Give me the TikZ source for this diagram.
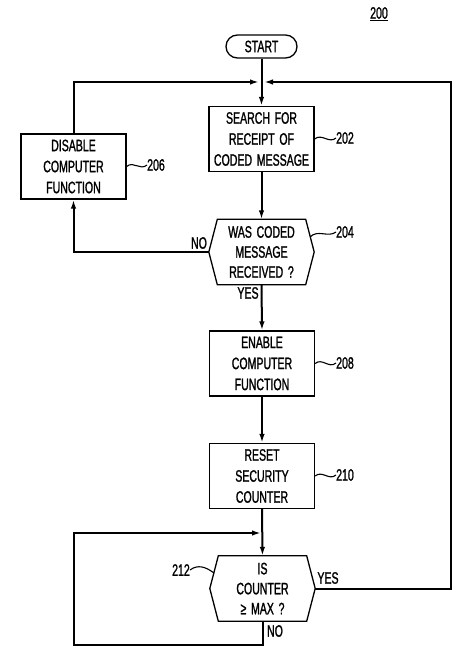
\documentclass[tikz,border=0pt]{standalone}
\usepackage{fontspec}
\setmainfont{Liberation Sans}[FakeStretch=0.64,FakeBold=1.2,WordSpace=1.6]
\usetikzlibrary{arrows.meta,calc}
\tikzset{
  lbl/.style={font=\fontsize{16.5}{21}\selectfont, inner sep=0pt, align=center},
  procbox/.style={draw, line width=1.3pt, minimum width=105pt, minimum height=65pt, inner sep=0pt, align=center, font=\fontsize{16.5}{21}\selectfont},
  hexbox/.style={minimum width=105pt, minimum height=65pt, inner sep=0pt, align=center, font=\fontsize{16.5}{20}\selectfont},
  termbox/.style={draw, line width=1.3pt, rounded corners=11.5pt, minimum width=71pt, minimum height=23pt, inner sep=0pt, font=\fontsize{16.5}{20}\selectfont},
  arr/.style={line width=2pt, -{Latex[length=9pt,width=5.5pt]}},
  tildeline/.style={line width=1.1pt}
}
\begin{document}
\begin{tikzpicture}[x=1pt,y=-1pt]
\useasboundingbox (0,0) rectangle (474,660);
\node[lbl] (fig) at (379,14) {\underline{200}};
\node[termbox] (start) at (261.5,46.5) {START};
\node[procbox] (b202) at (261.5,139) {SEARCH FOR\\RECEIPT OF\\CODED MESSAGE};
\node[procbox] (b206) at (73.5,166.5) {DISABLE\\COMPUTER\\FUNCTION};
\node[hexbox] (d204) at (261.5,252) {WAS CODED\\MESSAGE\\RECEIVED ?};
\node[procbox] (b208) at (262,363.5) {ENABLE\\COMPUTER\\FUNCTION};
\node[procbox] (b210) at (262,476) {RESET\\SECURITY\\COUNTER};
\node[hexbox] (d212) at (262.5,588.5) {IS\\COUNTER\\≥ MAX ?};
% hexagon outlines
\foreach \h in {d204,d212}{
  \draw[line width=1.3pt] (\h.west) -- ($(\h.north west)+(8.5,0)$) -- ($(\h.north east)+(-8.5,0)$) -- (\h.east) -- ($(\h.south east)+(-8.5,0)$) -- ($(\h.south west)+(8.5,0)$) -- cycle;
}
% reference labels
\node[lbl, anchor=west] (l202) at (336,138) {202};
\node[lbl, anchor=west] (l206) at (147,165) {206};
\node[lbl, anchor=west] (l204) at (336,232) {204};
\node[lbl, anchor=west] (l208) at (336,363) {208};
\node[lbl, anchor=west] (l210) at (336,475) {210};
\node[lbl, anchor=east] (l212) at (190,570) {212};
\coordinate (e204) at (310,237);
\coordinate (e212) at (214,573);
\draw[tildeline] (b202.east) .. controls +(7,-6) and +(-7,6) .. (l202.west);
\draw[tildeline] (b206.east) .. controls +(7,-6) and +(-7,6) .. (l206.west);
\draw[tildeline] (e204) .. controls +(8,-8) and +(-8,6) .. (l204.west);
\draw[tildeline] (b208.east) .. controls +(7,-6) and +(-7,6) .. (l208.west);
\draw[tildeline] (b210.east) .. controls +(7,-6) and +(-7,6) .. (l210.west);
\draw[tildeline] (l212.east) .. controls +(8,-6) and +(-8,-6) .. (e212);
% junction coordinates
\coordinate (jl) at (259,82);
\coordinate (jr) at (264,82);
\coordinate (rc) at (451,82);
\coordinate (jb) at (261,533);
\coordinate (nb) at (262.5,645);
\coordinate (lc) at (74,533);
% connectors
\draw[arr] (start.south) -- (b202.north);
\draw[arr] (b206.north) |- (jl);
\draw[arr] (b202.south) -- (d204.north);
\draw[arr] (d204.west) -| (b206.south);
\draw[arr] (d204.south) -- (b208.north);
\draw[arr] (b208.south) -- (b210.north);
\draw[arr] (b210.south) -- (d212.north);
\draw[arr] (d212.east) -| (rc) -- (jr);
\draw[arr] (d212.south) -- (nb) -| (lc) -- (jb);
% branch labels
\node[lbl] (no1) at (199,243) {NO};
\node[lbl] (yes1) at (248,293) {YES};
\node[lbl] (yes2) at (328,578) {YES};
\node[lbl] (no2) at (275,631) {NO};
\end{tikzpicture}
\end{document}
